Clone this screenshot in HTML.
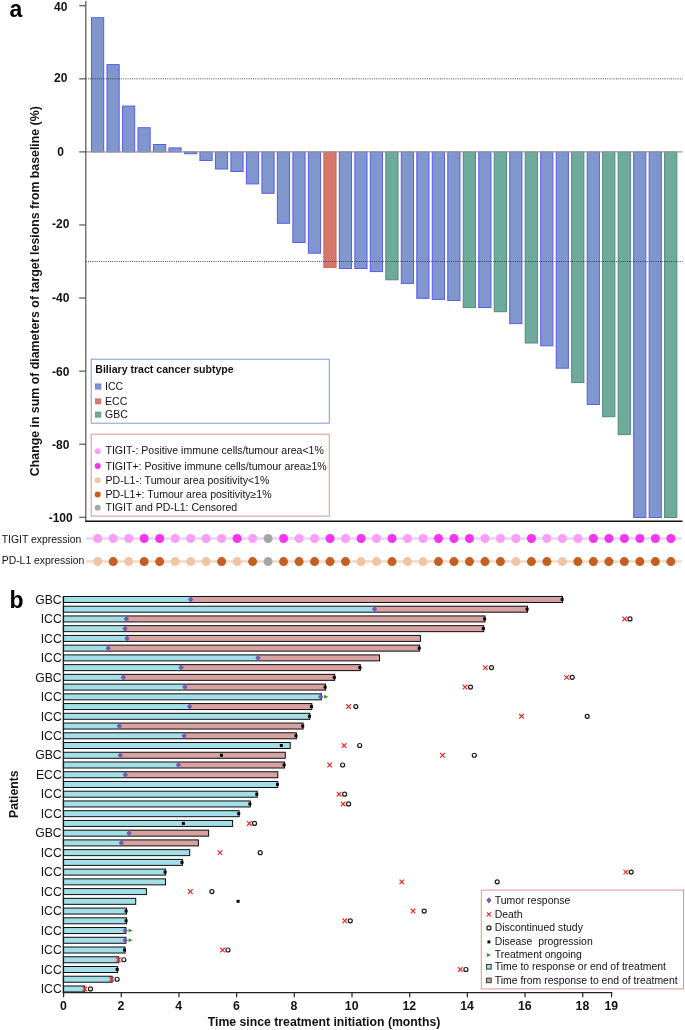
<!DOCTYPE html>
<html><head><meta charset="utf-8"><style>html,body{margin:0;padding:0;background:#fff;width:685px;height:1030px;overflow:hidden}</style></head>
<body><svg width="685" height="1030" viewBox="0 0 685 1030" style="display:block;will-change:transform;font-family:'Liberation Sans', sans-serif">
<rect width="685" height="1030" fill="#fff"/>
<text x="9.6" y="17.0" font-size="23" font-weight="bold" fill="#000">a</text>
<rect x="91.50" y="17.70" width="12.20" height="134.20" fill="#7f97cc" stroke="#5b5bf2" stroke-width="1"/>
<rect x="106.99" y="64.60" width="12.20" height="87.30" fill="#7f97cc" stroke="#5b5bf2" stroke-width="1"/>
<rect x="122.48" y="106.10" width="12.20" height="45.80" fill="#7f97cc" stroke="#5b5bf2" stroke-width="1"/>
<rect x="137.97" y="127.70" width="12.20" height="24.20" fill="#7f97cc" stroke="#5b5bf2" stroke-width="1"/>
<rect x="153.46" y="144.50" width="12.20" height="7.40" fill="#7f97cc" stroke="#5b5bf2" stroke-width="1"/>
<rect x="168.95" y="147.90" width="12.20" height="4.00" fill="#7f97cc" stroke="#5b5bf2" stroke-width="1"/>
<rect x="184.44" y="151.90" width="12.20" height="1.80" fill="#7f97cc" stroke="#5b5bf2" stroke-width="1"/>
<rect x="199.93" y="151.90" width="12.20" height="8.60" fill="#7f97cc" stroke="#5b5bf2" stroke-width="1"/>
<rect x="215.42" y="151.90" width="12.20" height="17.10" fill="#7f97cc" stroke="#5b5bf2" stroke-width="1"/>
<rect x="230.91" y="151.90" width="12.20" height="19.60" fill="#7f97cc" stroke="#5b5bf2" stroke-width="1"/>
<rect x="246.40" y="151.90" width="12.20" height="32.00" fill="#7f97cc" stroke="#5b5bf2" stroke-width="1"/>
<rect x="261.89" y="151.90" width="12.20" height="41.40" fill="#7f97cc" stroke="#5b5bf2" stroke-width="1"/>
<rect x="277.38" y="151.90" width="12.20" height="71.40" fill="#7f97cc" stroke="#5b5bf2" stroke-width="1"/>
<rect x="292.87" y="151.90" width="12.20" height="90.60" fill="#7f97cc" stroke="#5b5bf2" stroke-width="1"/>
<rect x="308.36" y="151.90" width="12.20" height="101.30" fill="#7f97cc" stroke="#5b5bf2" stroke-width="1"/>
<rect x="323.85" y="151.90" width="12.20" height="115.50" fill="#d7766b" stroke="#c96a60" stroke-width="1"/>
<rect x="339.34" y="151.90" width="12.20" height="116.60" fill="#7f97cc" stroke="#5b5bf2" stroke-width="1"/>
<rect x="354.83" y="151.90" width="12.20" height="116.60" fill="#7f97cc" stroke="#5b5bf2" stroke-width="1"/>
<rect x="370.32" y="151.90" width="12.20" height="119.70" fill="#7f97cc" stroke="#5b5bf2" stroke-width="1"/>
<rect x="385.81" y="151.90" width="12.20" height="127.90" fill="#6fab9c" stroke="#4e8c7c" stroke-width="1"/>
<rect x="401.30" y="151.90" width="12.20" height="131.50" fill="#7f97cc" stroke="#5b5bf2" stroke-width="1"/>
<rect x="416.79" y="151.90" width="12.20" height="146.40" fill="#7f97cc" stroke="#5b5bf2" stroke-width="1"/>
<rect x="432.28" y="151.90" width="12.20" height="147.50" fill="#7f97cc" stroke="#5b5bf2" stroke-width="1"/>
<rect x="447.77" y="151.90" width="12.20" height="148.60" fill="#7f97cc" stroke="#5b5bf2" stroke-width="1"/>
<rect x="463.26" y="151.90" width="12.20" height="155.60" fill="#6fab9c" stroke="#4e8c7c" stroke-width="1"/>
<rect x="478.75" y="151.90" width="12.20" height="155.60" fill="#7f97cc" stroke="#5b5bf2" stroke-width="1"/>
<rect x="494.24" y="151.90" width="12.20" height="159.80" fill="#6fab9c" stroke="#4e8c7c" stroke-width="1"/>
<rect x="509.73" y="151.90" width="12.20" height="171.70" fill="#7f97cc" stroke="#5b5bf2" stroke-width="1"/>
<rect x="525.22" y="151.90" width="12.20" height="191.10" fill="#6fab9c" stroke="#4e8c7c" stroke-width="1"/>
<rect x="540.71" y="151.90" width="12.20" height="193.90" fill="#7f97cc" stroke="#5b5bf2" stroke-width="1"/>
<rect x="556.20" y="151.90" width="12.20" height="216.30" fill="#7f97cc" stroke="#5b5bf2" stroke-width="1"/>
<rect x="571.69" y="151.90" width="12.20" height="230.70" fill="#6fab9c" stroke="#4e8c7c" stroke-width="1"/>
<rect x="587.18" y="151.90" width="12.20" height="252.60" fill="#7f97cc" stroke="#5b5bf2" stroke-width="1"/>
<rect x="602.67" y="151.90" width="12.20" height="264.80" fill="#6fab9c" stroke="#4e8c7c" stroke-width="1"/>
<rect x="618.16" y="151.90" width="12.20" height="282.70" fill="#6fab9c" stroke="#4e8c7c" stroke-width="1"/>
<rect x="633.65" y="151.90" width="12.20" height="365.60" fill="#7f97cc" stroke="#5b5bf2" stroke-width="1"/>
<rect x="649.14" y="151.90" width="12.20" height="365.60" fill="#7f97cc" stroke="#5b5bf2" stroke-width="1"/>
<rect x="664.63" y="151.90" width="12.20" height="365.60" fill="#6fab9c" stroke="#4e8c7c" stroke-width="1"/>
<line x1="85.8" y1="78.83" x2="682.5" y2="78.83" stroke="#333" stroke-width="0.9" stroke-dasharray="1 1.2"/>
<line x1="85.8" y1="261.51" x2="682.5" y2="261.51" stroke="#333" stroke-width="0.9" stroke-dasharray="1 1.2"/>
<line x1="85.8" y1="151.90" x2="682.5" y2="151.90" stroke="#9a9a9a" stroke-width="1.2"/>
<line x1="85.8" y1="1" x2="85.8" y2="521.5" stroke="#444" stroke-width="1.1"/>
<line x1="85.3" y1="521.3" x2="682.5" y2="521.3" stroke="#111" stroke-width="1.4"/>
<line x1="79.2" y1="5.76" x2="85.8" y2="5.76" stroke="#444" stroke-width="1.1"/>
<text x="60.7" y="10.96" font-size="12" font-weight="bold" text-anchor="middle" fill="#111">40</text>
<line x1="79.2" y1="78.83" x2="85.8" y2="78.83" stroke="#444" stroke-width="1.1"/>
<text x="60.7" y="81.63" font-size="12" font-weight="bold" text-anchor="middle" fill="#111">20</text>
<line x1="79.2" y1="151.90" x2="85.8" y2="151.90" stroke="#444" stroke-width="1.1"/>
<text x="60.7" y="156.20" font-size="12" font-weight="bold" text-anchor="middle" fill="#111">0</text>
<line x1="79.2" y1="224.97" x2="85.8" y2="224.97" stroke="#444" stroke-width="1.1"/>
<text x="60.7" y="227.87" font-size="12" font-weight="bold" text-anchor="middle" fill="#111">-20</text>
<line x1="79.2" y1="298.04" x2="85.8" y2="298.04" stroke="#444" stroke-width="1.1"/>
<text x="60.7" y="302.04" font-size="12" font-weight="bold" text-anchor="middle" fill="#111">-40</text>
<line x1="79.2" y1="371.12" x2="85.8" y2="371.12" stroke="#444" stroke-width="1.1"/>
<text x="60.7" y="376.22" font-size="12" font-weight="bold" text-anchor="middle" fill="#111">-60</text>
<line x1="79.2" y1="444.19" x2="85.8" y2="444.19" stroke="#444" stroke-width="1.1"/>
<text x="60.7" y="449.09" font-size="12" font-weight="bold" text-anchor="middle" fill="#111">-80</text>
<line x1="79.2" y1="517.26" x2="85.8" y2="517.26" stroke="#444" stroke-width="1.1"/>
<text x="60.7" y="521.76" font-size="12" font-weight="bold" text-anchor="middle" fill="#111">-100</text>
<text transform="translate(38.5 291.2) rotate(-90)" font-size="12.34" font-weight="bold" text-anchor="middle" fill="#111">Change in sum of diameters of target lesions from baseline (%)</text>
<rect x="91.2" y="359.2" width="238.1" height="64" fill="#fff" stroke="#7d9bd6" stroke-width="1"/>
<text x="95.3" y="372.9" font-size="10.56" font-weight="bold" fill="#111">Biliary tract cancer subtype</text>
<rect x="95.3" y="383.90" width="5.6" height="5.2" fill="#7f97cc" stroke="#5b5bf2" stroke-width="0.6"/>
<text x="105.1" y="389.9" font-size="10.5" fill="#111">ICC</text>
<rect x="95.3" y="398.80" width="5.6" height="5.2" fill="#d7766b" stroke="#c96a60" stroke-width="0.6"/>
<text x="105.1" y="404.8" font-size="10.5" fill="#111">ECC</text>
<rect x="95.3" y="412.00" width="5.6" height="5.2" fill="#6fab9c" stroke="#4e8c7c" stroke-width="0.6"/>
<text x="105.1" y="418.0" font-size="10.5" fill="#111">GBC</text>
<rect x="91.2" y="434.2" width="238.1" height="81.9" fill="#fff" stroke="#e0948c" stroke-width="1"/>
<circle cx="97.7" cy="451.2" r="3" fill="#fa9ef8"/>
<text x="105.5" y="454.2" font-size="10.55" fill="#111">TIGIT-: Positive immune cells/tumour area&lt;1%</text>
<circle cx="97.7" cy="465.9" r="3" fill="#f733ee"/>
<text x="105.5" y="469.6" font-size="10.55" fill="#111">TIGIT+: Positive immune cells/tumour area≥1%</text>
<circle cx="97.7" cy="480.2" r="3" fill="#eec6a6"/>
<text x="105.5" y="483.7" font-size="10.55" fill="#111">PD-L1-: Tumour area positivity&lt;1%</text>
<circle cx="97.7" cy="494.5" r="3" fill="#c55f20"/>
<text x="105.5" y="497.8" font-size="10.55" fill="#111">PD-L1+: Tumour area positivity≥1%</text>
<circle cx="97.7" cy="507.8" r="3" fill="#a6a6a6"/>
<text x="105.5" y="510.8" font-size="10.55" fill="#111">TIGIT and PD-L1: Censored</text>
<text x="1.7" y="542.5" font-size="10.42" fill="#111">TIGIT expression</text>
<text x="1.7" y="563.9" font-size="10.42" fill="#111">PD-L1 expression</text>
<line x1="85.8" y1="538.5" x2="682" y2="538.5" stroke="#ebdafb" stroke-width="3"/>
<line x1="85.8" y1="561.6" x2="682" y2="561.6" stroke="#f3e0d0" stroke-width="3"/>
<circle cx="97.70" cy="538.5" r="4.5" fill="#fa9ef8"/>
<circle cx="97.70" cy="561.6" r="4.5" fill="#eec6a6"/>
<circle cx="113.19" cy="538.5" r="4.5" fill="#fa9ef8"/>
<circle cx="113.19" cy="561.6" r="4.5" fill="#c55f20"/>
<circle cx="128.68" cy="538.5" r="4.5" fill="#fa9ef8"/>
<circle cx="128.68" cy="561.6" r="4.5" fill="#eec6a6"/>
<circle cx="144.17" cy="538.5" r="4.5" fill="#f733ee"/>
<circle cx="144.17" cy="561.6" r="4.5" fill="#c55f20"/>
<circle cx="159.66" cy="538.5" r="4.5" fill="#f733ee"/>
<circle cx="159.66" cy="561.6" r="4.5" fill="#c55f20"/>
<circle cx="175.15" cy="538.5" r="4.5" fill="#fa9ef8"/>
<circle cx="175.15" cy="561.6" r="4.5" fill="#eec6a6"/>
<circle cx="190.64" cy="538.5" r="4.5" fill="#fa9ef8"/>
<circle cx="190.64" cy="561.6" r="4.5" fill="#eec6a6"/>
<circle cx="206.13" cy="538.5" r="4.5" fill="#fa9ef8"/>
<circle cx="206.13" cy="561.6" r="4.5" fill="#eec6a6"/>
<circle cx="221.62" cy="538.5" r="4.5" fill="#fa9ef8"/>
<circle cx="221.62" cy="561.6" r="4.5" fill="#c55f20"/>
<circle cx="237.11" cy="538.5" r="4.5" fill="#f733ee"/>
<circle cx="237.11" cy="561.6" r="4.5" fill="#eec6a6"/>
<circle cx="252.60" cy="538.5" r="4.5" fill="#fa9ef8"/>
<circle cx="252.60" cy="561.6" r="4.5" fill="#c55f20"/>
<circle cx="268.09" cy="538.5" r="4.5" fill="#a6a6a6"/>
<circle cx="268.09" cy="561.6" r="4.5" fill="#a6a6a6"/>
<circle cx="283.58" cy="538.5" r="4.5" fill="#f733ee"/>
<circle cx="283.58" cy="561.6" r="4.5" fill="#c55f20"/>
<circle cx="299.07" cy="538.5" r="4.5" fill="#fa9ef8"/>
<circle cx="299.07" cy="561.6" r="4.5" fill="#c55f20"/>
<circle cx="314.56" cy="538.5" r="4.5" fill="#fa9ef8"/>
<circle cx="314.56" cy="561.6" r="4.5" fill="#c55f20"/>
<circle cx="330.05" cy="538.5" r="4.5" fill="#f733ee"/>
<circle cx="330.05" cy="561.6" r="4.5" fill="#c55f20"/>
<circle cx="345.54" cy="538.5" r="4.5" fill="#fa9ef8"/>
<circle cx="345.54" cy="561.6" r="4.5" fill="#c55f20"/>
<circle cx="361.03" cy="538.5" r="4.5" fill="#f733ee"/>
<circle cx="361.03" cy="561.6" r="4.5" fill="#eec6a6"/>
<circle cx="376.52" cy="538.5" r="4.5" fill="#fa9ef8"/>
<circle cx="376.52" cy="561.6" r="4.5" fill="#eec6a6"/>
<circle cx="392.01" cy="538.5" r="4.5" fill="#f733ee"/>
<circle cx="392.01" cy="561.6" r="4.5" fill="#c55f20"/>
<circle cx="407.50" cy="538.5" r="4.5" fill="#fa9ef8"/>
<circle cx="407.50" cy="561.6" r="4.5" fill="#eec6a6"/>
<circle cx="422.99" cy="538.5" r="4.5" fill="#fa9ef8"/>
<circle cx="422.99" cy="561.6" r="4.5" fill="#eec6a6"/>
<circle cx="438.48" cy="538.5" r="4.5" fill="#f733ee"/>
<circle cx="438.48" cy="561.6" r="4.5" fill="#c55f20"/>
<circle cx="453.97" cy="538.5" r="4.5" fill="#f733ee"/>
<circle cx="453.97" cy="561.6" r="4.5" fill="#c55f20"/>
<circle cx="469.46" cy="538.5" r="4.5" fill="#f733ee"/>
<circle cx="469.46" cy="561.6" r="4.5" fill="#c55f20"/>
<circle cx="484.95" cy="538.5" r="4.5" fill="#fa9ef8"/>
<circle cx="484.95" cy="561.6" r="4.5" fill="#c55f20"/>
<circle cx="500.44" cy="538.5" r="4.5" fill="#fa9ef8"/>
<circle cx="500.44" cy="561.6" r="4.5" fill="#c55f20"/>
<circle cx="515.93" cy="538.5" r="4.5" fill="#fa9ef8"/>
<circle cx="515.93" cy="561.6" r="4.5" fill="#eec6a6"/>
<circle cx="531.42" cy="538.5" r="4.5" fill="#f733ee"/>
<circle cx="531.42" cy="561.6" r="4.5" fill="#c55f20"/>
<circle cx="546.91" cy="538.5" r="4.5" fill="#fa9ef8"/>
<circle cx="546.91" cy="561.6" r="4.5" fill="#c55f20"/>
<circle cx="562.40" cy="538.5" r="4.5" fill="#fa9ef8"/>
<circle cx="562.40" cy="561.6" r="4.5" fill="#eec6a6"/>
<circle cx="577.89" cy="538.5" r="4.5" fill="#fa9ef8"/>
<circle cx="577.89" cy="561.6" r="4.5" fill="#c55f20"/>
<circle cx="593.38" cy="538.5" r="4.5" fill="#f733ee"/>
<circle cx="593.38" cy="561.6" r="4.5" fill="#c55f20"/>
<circle cx="608.87" cy="538.5" r="4.5" fill="#f733ee"/>
<circle cx="608.87" cy="561.6" r="4.5" fill="#c55f20"/>
<circle cx="624.36" cy="538.5" r="4.5" fill="#f733ee"/>
<circle cx="624.36" cy="561.6" r="4.5" fill="#c55f20"/>
<circle cx="639.85" cy="538.5" r="4.5" fill="#f733ee"/>
<circle cx="639.85" cy="561.6" r="4.5" fill="#c55f20"/>
<circle cx="655.34" cy="538.5" r="4.5" fill="#f733ee"/>
<circle cx="655.34" cy="561.6" r="4.5" fill="#c55f20"/>
<circle cx="670.83" cy="538.5" r="4.5" fill="#f733ee"/>
<circle cx="670.83" cy="561.6" r="4.5" fill="#c55f20"/>
<text x="9.6" y="607.6" font-size="23" font-weight="bold" fill="#000">b</text>
<rect x="63.60" y="596.45" width="127.00" height="6.0" fill="#a3dfe8"/>
<rect x="190.60" y="596.45" width="371.90" height="6.0" fill="#d9a2a2"/>
<rect x="63.60" y="596.45" width="498.90" height="6.0" fill="none" stroke="#0d0d0d" stroke-width="1"/>
<rect x="560.60" y="597.95" width="3.0" height="3.0" fill="#000"/>
<path d="M187.90 599.45L190.60 596.35L193.30 599.45L190.60 602.55Z" fill="#7759b0"/>
<rect x="63.60" y="606.19" width="310.90" height="6.0" fill="#a3dfe8"/>
<rect x="374.50" y="606.19" width="153.00" height="6.0" fill="#d9a2a2"/>
<rect x="63.60" y="606.19" width="463.90" height="6.0" fill="none" stroke="#0d0d0d" stroke-width="1"/>
<rect x="525.60" y="607.69" width="3.0" height="3.0" fill="#000"/>
<path d="M371.80 609.19L374.50 606.09L377.20 609.19L374.50 612.29Z" fill="#7759b0"/>
<rect x="63.60" y="615.93" width="62.70" height="6.0" fill="#a3dfe8"/>
<rect x="126.30" y="615.93" width="358.70" height="6.0" fill="#d9a2a2"/>
<rect x="63.60" y="615.93" width="421.40" height="6.0" fill="none" stroke="#0d0d0d" stroke-width="1"/>
<rect x="483.10" y="617.43" width="3.0" height="3.0" fill="#000"/>
<path d="M622.40 616.63L627.00 621.23M627.00 616.63L622.40 621.23" stroke="#f02828" stroke-width="1.2" fill="none"/>
<circle cx="630.00" cy="618.93" r="2.0" fill="none" stroke="#1a1a1a" stroke-width="1.2"/>
<path d="M123.60 618.93L126.30 615.83L129.00 618.93L126.30 622.03Z" fill="#7759b0"/>
<rect x="63.60" y="625.66" width="61.40" height="6.0" fill="#a3dfe8"/>
<rect x="125.00" y="625.66" width="358.70" height="6.0" fill="#d9a2a2"/>
<rect x="63.60" y="625.66" width="420.10" height="6.0" fill="none" stroke="#0d0d0d" stroke-width="1"/>
<rect x="481.80" y="627.16" width="3.0" height="3.0" fill="#000"/>
<path d="M122.30 628.66L125.00 625.56L127.70 628.66L125.00 631.76Z" fill="#7759b0"/>
<rect x="63.60" y="635.40" width="63.40" height="6.0" fill="#a3dfe8"/>
<rect x="127.00" y="635.40" width="293.40" height="6.0" fill="#d9a2a2"/>
<rect x="63.60" y="635.40" width="356.80" height="6.0" fill="none" stroke="#0d0d0d" stroke-width="1"/>
<path d="M124.30 638.40L127.00 635.30L129.70 638.40L127.00 641.50Z" fill="#7759b0"/>
<rect x="63.60" y="645.14" width="44.60" height="6.0" fill="#a3dfe8"/>
<rect x="108.20" y="645.14" width="311.40" height="6.0" fill="#d9a2a2"/>
<rect x="63.60" y="645.14" width="356.00" height="6.0" fill="none" stroke="#0d0d0d" stroke-width="1"/>
<rect x="417.70" y="646.64" width="3.0" height="3.0" fill="#000"/>
<path d="M105.50 648.14L108.20 645.04L110.90 648.14L108.20 651.24Z" fill="#7759b0"/>
<rect x="63.60" y="654.88" width="194.40" height="6.0" fill="#a3dfe8"/>
<rect x="258.00" y="654.88" width="121.50" height="6.0" fill="#d9a2a2"/>
<rect x="63.60" y="654.88" width="315.90" height="6.0" fill="none" stroke="#0d0d0d" stroke-width="1"/>
<path d="M255.30 657.88L258.00 654.78L260.70 657.88L258.00 660.98Z" fill="#7759b0"/>
<rect x="63.60" y="664.62" width="117.50" height="6.0" fill="#a3dfe8"/>
<rect x="181.10" y="664.62" width="179.20" height="6.0" fill="#d9a2a2"/>
<rect x="63.60" y="664.62" width="296.70" height="6.0" fill="none" stroke="#0d0d0d" stroke-width="1"/>
<rect x="358.40" y="666.12" width="3.0" height="3.0" fill="#000"/>
<path d="M483.00 665.32L487.60 669.92M487.60 665.32L483.00 669.92" stroke="#f02828" stroke-width="1.2" fill="none"/>
<circle cx="491.50" cy="667.62" r="2.0" fill="none" stroke="#1a1a1a" stroke-width="1.2"/>
<path d="M178.40 667.62L181.10 664.52L183.80 667.62L181.10 670.72Z" fill="#7759b0"/>
<rect x="63.60" y="674.35" width="59.70" height="6.0" fill="#a3dfe8"/>
<rect x="123.30" y="674.35" width="211.40" height="6.0" fill="#d9a2a2"/>
<rect x="63.60" y="674.35" width="271.10" height="6.0" fill="none" stroke="#0d0d0d" stroke-width="1"/>
<rect x="332.80" y="675.85" width="3.0" height="3.0" fill="#000"/>
<path d="M564.30 675.05L568.90 679.65M568.90 675.05L564.30 679.65" stroke="#f02828" stroke-width="1.2" fill="none"/>
<circle cx="572.20" cy="677.35" r="2.0" fill="none" stroke="#1a1a1a" stroke-width="1.2"/>
<path d="M120.60 677.35L123.30 674.25L126.00 677.35L123.30 680.45Z" fill="#7759b0"/>
<rect x="63.60" y="684.09" width="121.20" height="6.0" fill="#a3dfe8"/>
<rect x="184.80" y="684.09" width="140.70" height="6.0" fill="#d9a2a2"/>
<rect x="63.60" y="684.09" width="261.90" height="6.0" fill="none" stroke="#0d0d0d" stroke-width="1"/>
<rect x="323.60" y="685.59" width="3.0" height="3.0" fill="#000"/>
<path d="M462.70 684.79L467.30 689.39M467.30 684.79L462.70 689.39" stroke="#f02828" stroke-width="1.2" fill="none"/>
<circle cx="470.50" cy="687.09" r="2.0" fill="none" stroke="#1a1a1a" stroke-width="1.2"/>
<path d="M182.10 687.09L184.80 683.99L187.50 687.09L184.80 690.19Z" fill="#7759b0"/>
<rect x="63.60" y="693.83" width="257.90" height="6.0" fill="#a3dfe8"/>
<rect x="63.60" y="693.83" width="257.90" height="6.0" fill="none" stroke="#0d0d0d" stroke-width="1"/>
<path d="M318.10 696.83L320.80 693.73L323.50 696.83L320.80 699.93Z" fill="#7759b0"/>
<path d="M324.10 694.83L328.30 696.83L324.10 698.83Z" fill="#2f9a2f"/>
<rect x="63.60" y="703.57" width="126.00" height="6.0" fill="#a3dfe8"/>
<rect x="189.60" y="703.57" width="122.20" height="6.0" fill="#d9a2a2"/>
<rect x="63.60" y="703.57" width="248.20" height="6.0" fill="none" stroke="#0d0d0d" stroke-width="1"/>
<rect x="309.90" y="705.07" width="3.0" height="3.0" fill="#000"/>
<path d="M346.30 704.27L350.90 708.87M350.90 704.27L346.30 708.87" stroke="#f02828" stroke-width="1.2" fill="none"/>
<circle cx="355.80" cy="706.57" r="2.0" fill="none" stroke="#1a1a1a" stroke-width="1.2"/>
<path d="M186.90 706.57L189.60 703.47L192.30 706.57L189.60 709.67Z" fill="#7759b0"/>
<rect x="63.60" y="713.31" width="246.20" height="6.0" fill="#a3dfe8"/>
<rect x="63.60" y="713.31" width="246.20" height="6.0" fill="none" stroke="#0d0d0d" stroke-width="1"/>
<rect x="307.90" y="714.81" width="3.0" height="3.0" fill="#000"/>
<path d="M519.20 714.01L523.80 718.61M523.80 714.01L519.20 718.61" stroke="#f02828" stroke-width="1.2" fill="none"/>
<circle cx="587.20" cy="716.31" r="2.0" fill="none" stroke="#1a1a1a" stroke-width="1.2"/>
<rect x="63.60" y="723.04" width="55.70" height="6.0" fill="#a3dfe8"/>
<rect x="119.30" y="723.04" width="183.80" height="6.0" fill="#d9a2a2"/>
<rect x="63.60" y="723.04" width="239.50" height="6.0" fill="none" stroke="#0d0d0d" stroke-width="1"/>
<rect x="301.20" y="724.54" width="3.0" height="3.0" fill="#000"/>
<path d="M116.60 726.04L119.30 722.94L122.00 726.04L119.30 729.14Z" fill="#7759b0"/>
<rect x="63.60" y="732.78" width="120.50" height="6.0" fill="#a3dfe8"/>
<rect x="184.10" y="732.78" width="112.30" height="6.0" fill="#d9a2a2"/>
<rect x="63.60" y="732.78" width="232.80" height="6.0" fill="none" stroke="#0d0d0d" stroke-width="1"/>
<rect x="294.50" y="734.28" width="3.0" height="3.0" fill="#000"/>
<path d="M181.40 735.78L184.10 732.68L186.80 735.78L184.10 738.88Z" fill="#7759b0"/>
<rect x="63.60" y="742.52" width="226.60" height="6.0" fill="#a3dfe8"/>
<rect x="63.60" y="742.52" width="226.60" height="6.0" fill="none" stroke="#0d0d0d" stroke-width="1"/>
<rect x="279.80" y="744.02" width="3.0" height="3.0" fill="#000"/>
<path d="M341.80 743.22L346.40 747.82M346.40 743.22L341.80 747.82" stroke="#f02828" stroke-width="1.2" fill="none"/>
<circle cx="359.70" cy="745.52" r="2.0" fill="none" stroke="#1a1a1a" stroke-width="1.2"/>
<rect x="63.60" y="752.26" width="56.70" height="6.0" fill="#a3dfe8"/>
<rect x="120.30" y="752.26" width="165.00" height="6.0" fill="#d9a2a2"/>
<rect x="63.60" y="752.26" width="221.70" height="6.0" fill="none" stroke="#0d0d0d" stroke-width="1"/>
<rect x="219.90" y="753.76" width="3.0" height="3.0" fill="#000"/>
<path d="M440.20 752.96L444.80 757.56M444.80 752.96L440.20 757.56" stroke="#f02828" stroke-width="1.2" fill="none"/>
<circle cx="474.30" cy="755.26" r="2.0" fill="none" stroke="#1a1a1a" stroke-width="1.2"/>
<path d="M117.60 755.26L120.30 752.16L123.00 755.26L120.30 758.36Z" fill="#7759b0"/>
<rect x="63.60" y="762.00" width="114.80" height="6.0" fill="#a3dfe8"/>
<rect x="178.40" y="762.00" width="106.10" height="6.0" fill="#d9a2a2"/>
<rect x="63.60" y="762.00" width="220.90" height="6.0" fill="none" stroke="#0d0d0d" stroke-width="1"/>
<rect x="282.60" y="763.50" width="3.0" height="3.0" fill="#000"/>
<path d="M327.40 762.70L332.00 767.30M332.00 762.70L327.40 767.30" stroke="#f02828" stroke-width="1.2" fill="none"/>
<circle cx="342.60" cy="765.00" r="2.0" fill="none" stroke="#1a1a1a" stroke-width="1.2"/>
<path d="M175.70 765.00L178.40 761.90L181.10 765.00L178.40 768.10Z" fill="#7759b0"/>
<rect x="63.60" y="771.73" width="61.70" height="6.0" fill="#a3dfe8"/>
<rect x="125.30" y="771.73" width="152.50" height="6.0" fill="#d9a2a2"/>
<rect x="63.60" y="771.73" width="214.20" height="6.0" fill="none" stroke="#0d0d0d" stroke-width="1"/>
<path d="M122.60 774.73L125.30 771.63L128.00 774.73L125.30 777.83Z" fill="#7759b0"/>
<rect x="63.60" y="781.47" width="214.20" height="6.0" fill="#a3dfe8"/>
<rect x="63.60" y="781.47" width="214.20" height="6.0" fill="none" stroke="#0d0d0d" stroke-width="1"/>
<rect x="275.90" y="782.97" width="3.0" height="3.0" fill="#000"/>
<rect x="63.60" y="791.21" width="193.60" height="6.0" fill="#a3dfe8"/>
<rect x="63.60" y="791.21" width="193.60" height="6.0" fill="none" stroke="#0d0d0d" stroke-width="1"/>
<rect x="255.30" y="792.71" width="3.0" height="3.0" fill="#000"/>
<path d="M336.80 791.91L341.40 796.51M341.40 791.91L336.80 796.51" stroke="#f02828" stroke-width="1.2" fill="none"/>
<circle cx="344.60" cy="794.21" r="2.0" fill="none" stroke="#1a1a1a" stroke-width="1.2"/>
<rect x="63.60" y="800.95" width="186.70" height="6.0" fill="#a3dfe8"/>
<rect x="63.60" y="800.95" width="186.70" height="6.0" fill="none" stroke="#0d0d0d" stroke-width="1"/>
<rect x="248.40" y="802.45" width="3.0" height="3.0" fill="#000"/>
<path d="M340.80 801.65L345.40 806.25M345.40 801.65L340.80 806.25" stroke="#f02828" stroke-width="1.2" fill="none"/>
<circle cx="348.60" cy="803.95" r="2.0" fill="none" stroke="#1a1a1a" stroke-width="1.2"/>
<rect x="63.60" y="810.69" width="175.50" height="6.0" fill="#a3dfe8"/>
<rect x="63.60" y="810.69" width="175.50" height="6.0" fill="none" stroke="#0d0d0d" stroke-width="1"/>
<rect x="237.20" y="812.19" width="3.0" height="3.0" fill="#000"/>
<rect x="63.60" y="820.42" width="169.00" height="6.0" fill="#a3dfe8"/>
<rect x="63.60" y="820.42" width="169.00" height="6.0" fill="none" stroke="#0d0d0d" stroke-width="1"/>
<rect x="181.90" y="821.92" width="3.0" height="3.0" fill="#000"/>
<path d="M247.00 821.12L251.60 825.72M251.60 821.12L247.00 825.72" stroke="#f02828" stroke-width="1.2" fill="none"/>
<circle cx="254.50" cy="823.42" r="2.0" fill="none" stroke="#1a1a1a" stroke-width="1.2"/>
<rect x="63.60" y="830.16" width="65.40" height="6.0" fill="#a3dfe8"/>
<rect x="129.00" y="830.16" width="79.60" height="6.0" fill="#d9a2a2"/>
<rect x="63.60" y="830.16" width="145.00" height="6.0" fill="none" stroke="#0d0d0d" stroke-width="1"/>
<path d="M126.30 833.16L129.00 830.06L131.70 833.16L129.00 836.26Z" fill="#7759b0"/>
<rect x="63.60" y="839.90" width="57.70" height="6.0" fill="#a3dfe8"/>
<rect x="121.30" y="839.90" width="77.10" height="6.0" fill="#d9a2a2"/>
<rect x="63.60" y="839.90" width="134.80" height="6.0" fill="none" stroke="#0d0d0d" stroke-width="1"/>
<path d="M118.60 842.90L121.30 839.80L124.00 842.90L121.30 846.00Z" fill="#7759b0"/>
<rect x="63.60" y="849.64" width="126.10" height="6.0" fill="#a3dfe8"/>
<rect x="63.60" y="849.64" width="126.10" height="6.0" fill="none" stroke="#0d0d0d" stroke-width="1"/>
<path d="M217.70 850.34L222.30 854.94M222.30 850.34L217.70 854.94" stroke="#f02828" stroke-width="1.2" fill="none"/>
<circle cx="260.20" cy="852.64" r="2.0" fill="none" stroke="#1a1a1a" stroke-width="1.2"/>
<rect x="63.60" y="859.38" width="118.80" height="6.0" fill="#a3dfe8"/>
<rect x="63.60" y="859.38" width="118.80" height="6.0" fill="none" stroke="#0d0d0d" stroke-width="1"/>
<rect x="180.50" y="860.88" width="3.0" height="3.0" fill="#000"/>
<rect x="63.60" y="869.11" width="101.90" height="6.0" fill="#a3dfe8"/>
<rect x="63.60" y="869.11" width="101.90" height="6.0" fill="none" stroke="#0d0d0d" stroke-width="1"/>
<rect x="163.60" y="870.61" width="3.0" height="3.0" fill="#000"/>
<path d="M623.50 869.81L628.10 874.41M628.10 869.81L623.50 874.41" stroke="#f02828" stroke-width="1.2" fill="none"/>
<circle cx="631.20" cy="872.11" r="2.0" fill="none" stroke="#1a1a1a" stroke-width="1.2"/>
<rect x="63.60" y="878.85" width="101.90" height="6.0" fill="#a3dfe8"/>
<rect x="63.60" y="878.85" width="101.90" height="6.0" fill="none" stroke="#0d0d0d" stroke-width="1"/>
<path d="M399.50 879.55L404.10 884.15M404.10 879.55L399.50 884.15" stroke="#f02828" stroke-width="1.2" fill="none"/>
<circle cx="497.20" cy="881.85" r="2.0" fill="none" stroke="#1a1a1a" stroke-width="1.2"/>
<rect x="63.60" y="888.59" width="82.80" height="6.0" fill="#a3dfe8"/>
<rect x="63.60" y="888.59" width="82.80" height="6.0" fill="none" stroke="#0d0d0d" stroke-width="1"/>
<path d="M188.00 889.29L192.60 893.89M192.60 889.29L188.00 893.89" stroke="#f02828" stroke-width="1.2" fill="none"/>
<circle cx="211.90" cy="891.59" r="2.0" fill="none" stroke="#1a1a1a" stroke-width="1.2"/>
<rect x="63.60" y="898.33" width="72.10" height="6.0" fill="#a3dfe8"/>
<rect x="63.60" y="898.33" width="72.10" height="6.0" fill="none" stroke="#0d0d0d" stroke-width="1"/>
<rect x="236.60" y="899.83" width="3.0" height="3.0" fill="#000"/>
<rect x="63.60" y="908.07" width="62.90" height="6.0" fill="#a3dfe8"/>
<rect x="63.60" y="908.07" width="62.90" height="6.0" fill="none" stroke="#0d0d0d" stroke-width="1"/>
<rect x="124.60" y="909.57" width="3.0" height="3.0" fill="#000"/>
<path d="M410.70 908.77L415.30 913.37M415.30 908.77L410.70 913.37" stroke="#f02828" stroke-width="1.2" fill="none"/>
<circle cx="424.20" cy="911.07" r="2.0" fill="none" stroke="#1a1a1a" stroke-width="1.2"/>
<rect x="63.60" y="917.80" width="62.90" height="6.0" fill="#a3dfe8"/>
<rect x="63.60" y="917.80" width="62.90" height="6.0" fill="none" stroke="#0d0d0d" stroke-width="1"/>
<rect x="124.60" y="919.30" width="3.0" height="3.0" fill="#000"/>
<path d="M342.50 918.50L347.10 923.10M347.10 918.50L342.50 923.10" stroke="#f02828" stroke-width="1.2" fill="none"/>
<circle cx="350.30" cy="920.80" r="2.0" fill="none" stroke="#1a1a1a" stroke-width="1.2"/>
<rect x="63.60" y="927.54" width="62.30" height="6.0" fill="#a3dfe8"/>
<rect x="63.60" y="927.54" width="62.30" height="6.0" fill="none" stroke="#0d0d0d" stroke-width="1"/>
<path d="M122.50 930.54L125.20 927.44L127.90 930.54L125.20 933.64Z" fill="#7759b0"/>
<path d="M128.50 928.54L132.70 930.54L128.50 932.54Z" fill="#2f9a2f"/>
<rect x="63.60" y="937.28" width="62.30" height="6.0" fill="#a3dfe8"/>
<rect x="63.60" y="937.28" width="62.30" height="6.0" fill="none" stroke="#0d0d0d" stroke-width="1"/>
<path d="M122.50 940.28L125.20 937.18L127.90 940.28L125.20 943.38Z" fill="#7759b0"/>
<path d="M128.50 938.28L132.70 940.28L128.50 942.28Z" fill="#2f9a2f"/>
<rect x="63.60" y="947.02" width="61.40" height="6.0" fill="#a3dfe8"/>
<rect x="63.60" y="947.02" width="61.40" height="6.0" fill="none" stroke="#0d0d0d" stroke-width="1"/>
<rect x="123.10" y="948.52" width="3.0" height="3.0" fill="#000"/>
<path d="M220.30 947.72L224.90 952.32M224.90 947.72L220.30 952.32" stroke="#f02828" stroke-width="1.2" fill="none"/>
<circle cx="228.00" cy="950.02" r="2.0" fill="none" stroke="#1a1a1a" stroke-width="1.2"/>
<rect x="63.60" y="956.76" width="55.20" height="6.0" fill="#a3dfe8"/>
<rect x="63.60" y="956.76" width="55.20" height="6.0" fill="none" stroke="#0d0d0d" stroke-width="1"/>
<path d="M116.00 957.46L120.60 962.06M120.60 957.46L116.00 962.06" stroke="#f02828" stroke-width="1.2" fill="none"/>
<circle cx="123.80" cy="959.76" r="2.0" fill="none" stroke="#1a1a1a" stroke-width="1.2"/>
<rect x="63.60" y="966.49" width="54.00" height="6.0" fill="#a3dfe8"/>
<rect x="63.60" y="966.49" width="54.00" height="6.0" fill="none" stroke="#0d0d0d" stroke-width="1"/>
<rect x="115.70" y="967.99" width="3.0" height="3.0" fill="#000"/>
<path d="M458.00 967.19L462.60 971.79M462.60 967.19L458.00 971.79" stroke="#f02828" stroke-width="1.2" fill="none"/>
<circle cx="465.90" cy="969.49" r="2.0" fill="none" stroke="#1a1a1a" stroke-width="1.2"/>
<rect x="63.60" y="976.23" width="48.50" height="6.0" fill="#a3dfe8"/>
<rect x="63.60" y="976.23" width="48.50" height="6.0" fill="none" stroke="#0d0d0d" stroke-width="1"/>
<path d="M109.30 976.93L113.90 981.53M113.90 976.93L109.30 981.53" stroke="#f02828" stroke-width="1.2" fill="none"/>
<circle cx="117.10" cy="979.23" r="2.0" fill="none" stroke="#1a1a1a" stroke-width="1.2"/>
<rect x="63.60" y="985.97" width="21.20" height="6.0" fill="#a3dfe8"/>
<rect x="63.60" y="985.97" width="21.20" height="6.0" fill="none" stroke="#0d0d0d" stroke-width="1"/>
<path d="M82.50 986.67L87.10 991.27M87.10 986.67L82.50 991.27" stroke="#f02828" stroke-width="1.2" fill="none"/>
<circle cx="90.50" cy="988.97" r="2.0" fill="none" stroke="#1a1a1a" stroke-width="1.2"/>
<text x="61.7" y="603.65" font-size="12.2" text-anchor="end" fill="#111">GBC</text>
<text x="61.7" y="623.13" font-size="12.2" text-anchor="end" fill="#111">ICC</text>
<text x="61.7" y="642.60" font-size="12.2" text-anchor="end" fill="#111">ICC</text>
<text x="61.7" y="662.08" font-size="12.2" text-anchor="end" fill="#111">ICC</text>
<text x="61.7" y="681.55" font-size="12.2" text-anchor="end" fill="#111">GBC</text>
<text x="61.7" y="701.03" font-size="12.2" text-anchor="end" fill="#111">ICC</text>
<text x="61.7" y="720.51" font-size="12.2" text-anchor="end" fill="#111">ICC</text>
<text x="61.7" y="739.98" font-size="12.2" text-anchor="end" fill="#111">ICC</text>
<text x="61.7" y="759.46" font-size="12.2" text-anchor="end" fill="#111">GBC</text>
<text x="61.7" y="778.93" font-size="12.2" text-anchor="end" fill="#111">ECC</text>
<text x="61.7" y="798.41" font-size="12.2" text-anchor="end" fill="#111">ICC</text>
<text x="61.7" y="817.89" font-size="12.2" text-anchor="end" fill="#111">ICC</text>
<text x="61.7" y="837.36" font-size="12.2" text-anchor="end" fill="#111">GBC</text>
<text x="61.7" y="856.84" font-size="12.2" text-anchor="end" fill="#111">ICC</text>
<text x="61.7" y="876.31" font-size="12.2" text-anchor="end" fill="#111">ICC</text>
<text x="61.7" y="895.79" font-size="12.2" text-anchor="end" fill="#111">ICC</text>
<text x="61.7" y="915.27" font-size="12.2" text-anchor="end" fill="#111">ICC</text>
<text x="61.7" y="934.74" font-size="12.2" text-anchor="end" fill="#111">ICC</text>
<text x="61.7" y="954.22" font-size="12.2" text-anchor="end" fill="#111">ICC</text>
<text x="61.7" y="973.69" font-size="12.2" text-anchor="end" fill="#111">ICC</text>
<text x="61.7" y="993.17" font-size="12.2" text-anchor="end" fill="#111">ICC</text>
<line x1="63.30" y1="596" x2="63.30" y2="992.8" stroke="#111" stroke-width="1.2"/>
<line x1="62.70" y1="992.6" x2="612.2" y2="992.6" stroke="#222" stroke-width="1.2"/>
<line x1="63.60" y1="992" x2="63.60" y2="997.3" stroke="#222" stroke-width="1.2"/>
<text x="63.30" y="1009.6" font-size="12.3" font-weight="bold" text-anchor="middle" fill="#111">0</text>
<line x1="121.28" y1="992" x2="121.28" y2="997.3" stroke="#222" stroke-width="1.2"/>
<text x="120.98" y="1009.6" font-size="12.3" font-weight="bold" text-anchor="middle" fill="#111">2</text>
<line x1="178.96" y1="992" x2="178.96" y2="997.3" stroke="#222" stroke-width="1.2"/>
<text x="178.66" y="1009.6" font-size="12.3" font-weight="bold" text-anchor="middle" fill="#111">4</text>
<line x1="236.64" y1="992" x2="236.64" y2="997.3" stroke="#222" stroke-width="1.2"/>
<text x="236.34" y="1009.6" font-size="12.3" font-weight="bold" text-anchor="middle" fill="#111">6</text>
<line x1="294.32" y1="992" x2="294.32" y2="997.3" stroke="#222" stroke-width="1.2"/>
<text x="294.02" y="1009.6" font-size="12.3" font-weight="bold" text-anchor="middle" fill="#111">8</text>
<line x1="352.00" y1="992" x2="352.00" y2="997.3" stroke="#222" stroke-width="1.2"/>
<text x="351.70" y="1009.6" font-size="12.3" font-weight="bold" text-anchor="middle" fill="#111">10</text>
<line x1="409.68" y1="992" x2="409.68" y2="997.3" stroke="#222" stroke-width="1.2"/>
<text x="409.38" y="1009.6" font-size="12.3" font-weight="bold" text-anchor="middle" fill="#111">12</text>
<line x1="467.36" y1="992" x2="467.36" y2="997.3" stroke="#222" stroke-width="1.2"/>
<text x="467.06" y="1009.6" font-size="12.3" font-weight="bold" text-anchor="middle" fill="#111">14</text>
<line x1="525.04" y1="992" x2="525.04" y2="997.3" stroke="#222" stroke-width="1.2"/>
<text x="524.74" y="1009.6" font-size="12.3" font-weight="bold" text-anchor="middle" fill="#111">16</text>
<line x1="582.72" y1="992" x2="582.72" y2="997.3" stroke="#222" stroke-width="1.2"/>
<text x="582.42" y="1009.6" font-size="12.3" font-weight="bold" text-anchor="middle" fill="#111">18</text>
<line x1="611.56" y1="992" x2="611.56" y2="997.3" stroke="#222" stroke-width="1.2"/>
<text x="611.26" y="1009.6" font-size="12.3" font-weight="bold" text-anchor="middle" fill="#111">19</text>
<text x="324.0" y="1025.8" font-size="12.25" font-weight="bold" text-anchor="middle" fill="#111">Time since treatment initiation (months)</text>
<text transform="translate(18.3 794.2) rotate(-90)" font-size="12.25" font-weight="bold" text-anchor="middle" fill="#111">Patients</text>
<rect x="481.3" y="890.1" width="202.2" height="98.8" fill="#fff" stroke="#e0948c" stroke-width="1"/>
<path d="M486.30 900.30L488.90 897.20L491.50 900.30L488.90 903.40Z" fill="#7759b0"/>
<text x="494.7" y="903.7" font-size="10.45" fill="#111" style="white-space:pre">Tumor response</text>
<path d="M486.90 912.30L490.90 916.30M490.90 912.30L486.90 916.30" stroke="#f02828" stroke-width="1.2" fill="none"/>
<text x="494.7" y="917.8" font-size="10.45" fill="#111" style="white-space:pre">Death</text>
<circle cx="488.90" cy="927.90" r="2.0" fill="none" stroke="#1a1a1a" stroke-width="1.2"/>
<text x="494.7" y="931.4" font-size="10.45" fill="#111" style="white-space:pre">Discontinued study</text>
<rect x="487.45" y="940.45" width="2.9" height="2.9" fill="#000"/>
<text x="494.7" y="945.4" font-size="10.45" fill="#111" style="white-space:pre">Disease  progression</text>
<path d="M486.90 952.90L491.10 954.90L486.90 956.90Z" fill="#2f9a2f"/>
<text x="494.7" y="958.2" font-size="10.45" fill="#111" style="white-space:pre">Treatment ongoing</text>
<rect x="486.60" y="964.50" width="4.6" height="4.6" fill="#a3dfe8" stroke="#222" stroke-width="0.9"/>
<text x="494.7" y="970.3" font-size="10.45" fill="#111" style="white-space:pre">Time to response or end of treatment</text>
<rect x="486.60" y="978.10" width="4.6" height="4.6" fill="#d9a2a2" stroke="#222" stroke-width="0.9"/>
<text x="494.7" y="984.0" font-size="10.45" fill="#111" style="white-space:pre">Time from response to end of treatment</text>
</svg></body></html>
